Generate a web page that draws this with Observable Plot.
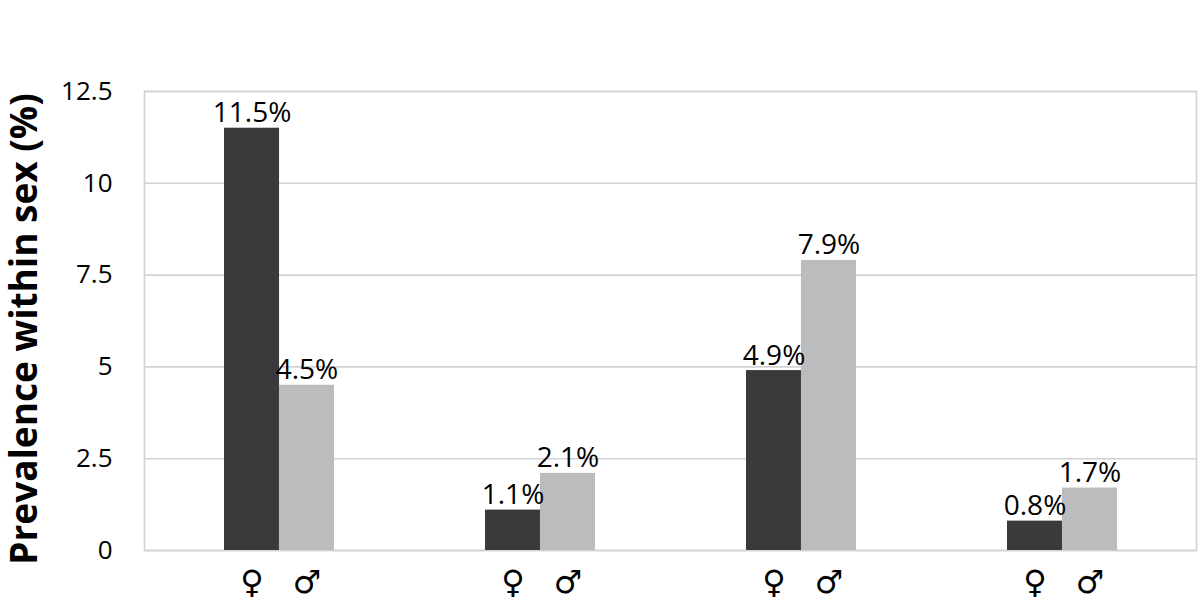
<!DOCTYPE html>
<html>
<head>
<meta charset="utf-8">
<script src="https://cdn.jsdelivr.net/npm/d3@7"></script>
<script src="https://cdn.jsdelivr.net/npm/@observablehq/plot@0.6"></script>
<style>
  html, body { margin: 0; padding: 0; background: #fff; }
  #chart { width: 1200px; height: 600px; }
</style>
</head>
<body>
<div id="chart"></div>
<script>
// ---- data ----
const groups = ["Group 1", "Group 2", "Group 3", "Group 4"];
const sexes = ["♀", "♂"];
const femaleValues = [11.5, 1.1, 4.9, 0.8];
const maleValues = [4.5, 2.1, 7.9, 1.7];
const yTicks = [0, 2.5, 5, 7.5, 10, 12.5];
const yTitle = "Prevalence within sex (%)";

const rows = [];
groups.forEach((g, i) => {
  rows.push({group: g, sex: sexes[0], value: femaleValues[i]});
  rows.push({group: g, sex: sexes[1], value: maleValues[i]});
});
const fem = rows.filter(d => d.sex === sexes[0]);
const mal = rows.filter(d => d.sex === sexes[1]);

// ---- layout ----
const W = 1200, H = 600;
const mL = 144, mR = 4, mT = 91, mB = 50;
const pIn = 0.58, pOut = 0.3;
const step = (W - mL - mR) / (groups.length - pIn + 2 * pOut);
const bw = step * (1 - pIn);
const half = bw / 2;
const FONT = "'Open Sans', 'Noto Sans', sans-serif";

const chart = Plot.plot({
  width: W,
  height: H,
  marginLeft: mL,
  marginRight: mR,
  marginTop: mT,
  marginBottom: mB,
  style: {fontFamily: FONT, background: "#fff", color: "#000"},
  x: {type: "band", domain: groups, paddingInner: pIn, paddingOuter: pOut, axis: null},
  y: {domain: [0, 12.5], axis: null},
  marks: [
    Plot.gridY(yTicks, {stroke: "#d2d2d2", strokeOpacity: 1, strokeWidth: 1.6}),
    Plot.frame({stroke: "#d2d2d2", strokeWidth: 1.6}),
    Plot.axisY(yTicks, {
      tickSize: 0, tickPadding: 32, fontSize: 26, label: null,
      tickFormat: d => String(d), fill: "#000"
    }),
    Plot.barY(fem, {x: "group", y: "value", fill: "#3a3a3c", insetRight: half}),
    Plot.barY(mal, {x: "group", y: "value", fill: "#bbbcbe", insetLeft: half}),
    Plot.text(fem, {x: "group", y: "value", text: d => d.value.toFixed(1) + "%", dx: -half / 2, dy: -6, lineAnchor: "bottom", fontSize: 28, fontWeight: 500, fill: "#000"}),
    Plot.text(mal, {x: "group", y: "value", text: d => d.value.toFixed(1) + "%", dx: half / 2, dy: -6, lineAnchor: "bottom", fontSize: 28, fontWeight: 500, fill: "#000"}),
    Plot.text(fem, {x: "group", y: 0, text: "sex", dx: -half / 2, dy: 32, fontSize: 32, fontFamily: "'DejaVu Sans', sans-serif", fontWeight: "bold", fill: "#000"}),
    Plot.text(mal, {x: "group", y: 0, text: "sex", dx: half / 2, dy: 32, fontSize: 32, fontFamily: "'DejaVu Sans', sans-serif", fontWeight: "bold", fill: "#000"}),
    Plot.text([yTitle], {frameAnchor: "left", textAnchor: "middle", text: d => d, rotate: -90, dx: -119, dy: 8, fontSize: 37, fontWeight: "bold", fill: "#000"})
  ]
});
document.getElementById("chart").appendChild(chart);
</script>
</body>
</html>
